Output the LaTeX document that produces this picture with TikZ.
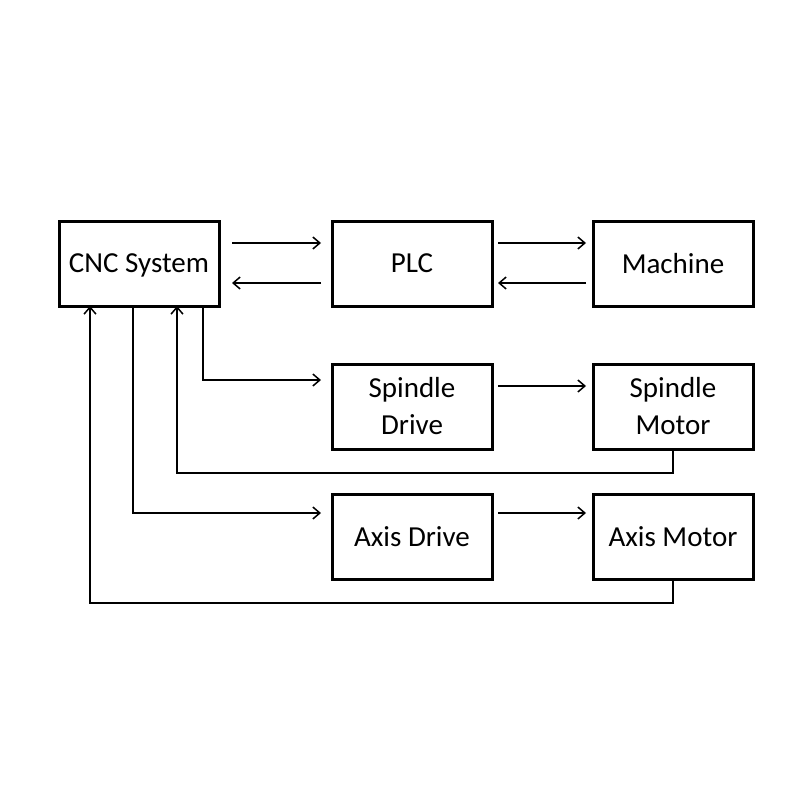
\documentclass[tikz,border=0pt]{standalone}
\usepackage{fontspec}
\setmainfont{Carlito}
\usetikzlibrary{arrows.meta,calc}
\begin{document}
\begin{tikzpicture}[x=1pt,y=-1pt,
  box/.style={draw=black,line width=3pt,minimum width=160pt,minimum height=85pt,outer sep=0pt,inner sep=2pt,align=center,font=\fontsize{29}{37}\selectfont},
  onebox/.style={box,text depth=0pt},
  arr/.style={line width=1.5pt,-{Straight Barb[length=7pt,width=12pt,line width=1.5pt]}}]
\useasboundingbox[fill=white] (0,0) rectangle (800,800);
\node[onebox] (cnc) at (139,263.5) {CNC System};
\node[onebox] (plc) at (412,263.5) {PLC};
\node[onebox] (mach) at (673,263.5) {Machine};
\node[box] (sd) at (412,406.5) {Spindle\\Drive};
\node[box] (sm) at (673,406.5) {Spindle\\Motor};
\node[onebox] (ad) at (412,536.5) {Axis Drive};
\node[onebox] (am) at (673,536.5) {Axis Motor};
% horizontal pairs
\draw[arr,shorten <=13pt,shorten >=11pt] ([yshift=20.5pt]cnc.east) -- ([yshift=20.5pt]plc.west);
\draw[arr,shorten <=11pt,shorten >=13pt] ([yshift=-19.5pt]plc.west) -- ([yshift=-19.5pt]cnc.east);
\draw[arr,shorten <=6pt,shorten >=7pt] ([yshift=20.5pt]plc.east) -- ([yshift=20.5pt]mach.west);
\draw[arr,shorten <=7pt,shorten >=6pt] ([yshift=-19.5pt]mach.west) -- ([yshift=-19.5pt]plc.east);
\draw[arr,shorten <=6pt,shorten >=7pt] ([yshift=20.5pt]sd.east) -- ([yshift=20.5pt]sm.west);
\draw[arr,shorten <=6pt,shorten >=7pt] ([yshift=23.5pt]ad.east) -- ([yshift=23.5pt]am.west);
% CNC to drives
\draw[arr,shorten >=11pt] ([xshift=64pt]cnc.south) |- ([yshift=26.5pt]sd.west);
\draw[arr,shorten >=11pt] ([xshift=-6pt]cnc.south) |- ([yshift=23.5pt]ad.west);
% feedback
\draw[arr] (sm.south) -- ++(0,-24pt) -| ([xshift=38pt]cnc.south);
\draw[arr] (am.south) -- ++(0,-24pt) -| ([xshift=-49pt]cnc.south);
\end{tikzpicture}
\end{document}
